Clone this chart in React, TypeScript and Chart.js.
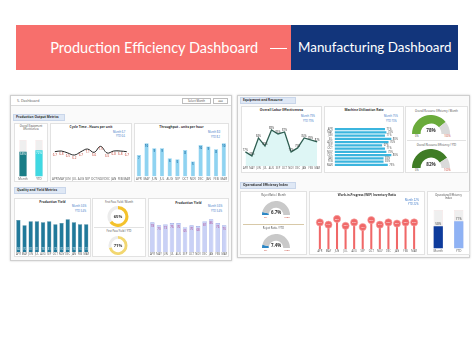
import React, { useEffect, useRef } from 'react';
import { Chart, registerables } from 'chart.js';
Chart.register(...registerables);

// ---------- data ----------
const months = ['APR', 'MAY', 'JUN', 'JUL', 'AUG', 'SEP', 'OCT', 'NOV', 'DEC', 'JAN', 'FEB', 'MAR'];
const periodLabels = ['Month', 'YTD'];
const oeeValues = [68, 72];
const cycleTime = [6.7, 6.8, 6.5, 6.2, 6.7, 7.1, 6.6, 7.5, 6.5, 6.8, 6.8, 6.7];
const throughput = [6.5, 10, 8.5, 8.5, 5.5, 5.2, 8, 4.5, 9.5, 9, 8.2, 10];
const yieldTeal = [84, 70, 81, 81, 78, 81, 73, 76, 86, 78, 73, 73];
const fpyMonth = 65;
const fpyYtd = 71;
const yieldLavender = [78, 70, 73, 76, 76, 65, 70, 68, 81, 86, 76, 70];
const laborEff = [77, 75, 84, 80, 88, 86, 87, 77, 79, 84, 83, 82];
const machineUtil = [71, 73, 71, 80, 76, 67, 71, 73, 80, 69, 69, 75];
const resMonth = 78;
const resYtd = 82;
const rejectMonth = 6.7;
const rejectYtd = 7.4;
const wipRatio = [23, 21, 26, 20, 23, 19, 25, 21, 23, 22, 23, 23];
const opIndex = [58, 71];
const fullScale = [100, 100];

const FONT = '"Open Sans", "Noto Sans", sans-serif';

type LabelSpec = {
  ds: number;
  fmt: (v: number) => string;
  color: string;
  size: number;
  pos: 'above' | 'below' | 'insideTop' | 'insideBottom' | 'middle' | 'right' | 'center';
  bold?: boolean;
  off?: number;
};

function valueLabels(specs: LabelSpec[]) {
  return {
    id: 'vlabels',
    afterDatasetsDraw(chart: any) {
      const ctx = chart.ctx;
      specs.forEach((s) => {
        const meta = chart.getDatasetMeta(s.ds);
        const data = chart.data.datasets[s.ds].data;
        meta.data.forEach((el: any, i: number) => {
          const p = el.getProps(['x', 'y', 'base'], true);
          const v = data[i] as number;
          ctx.save();
          ctx.font = `${s.bold ? 'bold ' : ''}${s.size}px ${FONT}`;
          ctx.fillStyle = s.color;
          ctx.textAlign = 'center';
          ctx.textBaseline = 'middle';
          let x = p.x;
          let y = p.y;
          const o = s.off ?? 0;
          if (s.pos === 'above') y = p.y - s.size * 0.8 - o;
          else if (s.pos === 'below') y = p.y + s.size * 0.9 + o;
          else if (s.pos === 'insideTop') y = p.y + s.size * 0.8 + o;
          else if (s.pos === 'insideBottom') y = p.base - s.size * 0.8 - o;
          else if (s.pos === 'middle') y = (p.y + p.base) / 2 + o;
          else if (s.pos === 'right') {
            ctx.textAlign = 'left';
            x = p.x + 1.5 + o;
          }
          ctx.fillText(s.fmt(v), x, y);
          ctx.restore();
        });
      });
    },
  };
}

const noLegend = { legend: { display: false }, tooltip: { enabled: false }, title: { display: false } };
const monthAxis = (size = 3) => ({
  grid: { display: false, drawTicks: false },
  border: { display: false },
  ticks: { font: { size, family: FONT }, color: '#555', padding: 1, maxRotation: 0, autoSkip: false },
});
const hiddenAxis = (min: number, max: number) => ({ display: false, min, max });

function ChartBox({ x, y, w, h, config }: { x: number; y: number; w: number; h: number; config: () => any }) {
  const ref = useRef<HTMLCanvasElement>(null);
  useEffect(() => {
    const c = new Chart(ref.current as HTMLCanvasElement, config());
    return () => c.destroy();
  }, []);
  return <canvas ref={ref} width={w} height={h} style={{ position: 'absolute', left: x, top: y, width: w, height: h }} />;
}

function T({ x, y, s, c = '#333', b = false, w, align = 'left', children }: any) {
  return (
    <div
      style={{
        position: 'absolute',
        left: x,
        top: y,
        width: w,
        fontSize: s,
        lineHeight: 1.1,
        color: c,
        fontWeight: b ? 700 : 400,
        textAlign: align,
        whiteSpace: 'pre',
        fontFamily: FONT,
      }}
    >
      {children}
    </div>
  );
}

function Box({ x, y, w, h, bg = '#fff', bc = '#e2e2e2' }: any) {
  return <div style={{ position: 'absolute', left: x, top: y, width: w, height: h, background: bg, border: `1px solid ${bc}`, boxSizing: 'border-box' }} />;
}

function Tag({ x, y, w, text }: any) {
  return (
    <div
      style={{
        position: 'absolute', left: x, top: y, width: w, height: 7, background: '#dfe8f5', border: '1px solid #c9d6ea',
        boxSizing: 'border-box', fontSize: 3.2, fontWeight: 700, color: '#333', fontFamily: FONT, lineHeight: '5px', paddingLeft: 2,
        whiteSpace: 'nowrap',
      }}
    >
      {text}
    </div>
  );
}

// ---------- chart configs ----------
const periodBars = (values: number[], colors: string[], labelPos: 'insideTop' | 'above') => () => ({
  type: 'bar',
  data: {
    labels: periodLabels,
    datasets: [
      { data: values, backgroundColor: colors, order: 1, grouped: false, barPercentage: 0.45, categoryPercentage: 1 },
      { data: fullScale, backgroundColor: '#efefef', borderColor: '#f3d6d6', borderWidth: 0.5, order: 2, grouped: false, barPercentage: 0.45, categoryPercentage: 1 },
    ],
  },
  options: {
    responsive: false, animation: false, layout: { padding: 0 }, plugins: noLegend,
    scales: { x: monthAxis(3), y: hiddenAxis(0, 100) },
  },
  plugins: [valueLabels([{ ds: 0, fmt: (v) => `${v}%`, color: labelPos === 'above' ? '#333' : '#fff', size: 3, pos: labelPos, off: labelPos === 'above' ? 0 : 0.5 }])],
});

const cycleConfig = () => ({
  type: 'line',
  data: { labels: months, datasets: [{ data: cycleTime, borderColor: '#222', borderWidth: 1, pointRadius: 0, tension: 0.4 }] },
  options: {
    responsive: false, animation: false, layout: { padding: { left: 2, right: 2 } }, plugins: noLegend,
    scales: { x: monthAxis(3), y: hiddenAxis(3, 8.6) },
  },
  plugins: [valueLabels([{ ds: 0, fmt: (v) => v.toFixed(1), color: '#c0392b', size: 3, pos: 'below', off: 0.5 }])],
});

const throughputConfig = () => ({
  type: 'bar',
  data: { labels: months, datasets: [{ data: throughput, backgroundColor: '#8fd3f1', borderColor: '#6cc0e6', borderWidth: 0.4, barPercentage: 0.6, categoryPercentage: 0.9 }] },
  options: {
    responsive: false, animation: false, layout: { padding: 0 }, plugins: noLegend,
    scales: { x: monthAxis(3), y: hiddenAxis(0, 11) },
  },
  plugins: [valueLabels([{ ds: 0, fmt: (v) => `${Math.round(v)}`, color: '#2f7fb0', size: 3, pos: 'insideTop', off: 0.5, bold: true }])],
});

const yieldTealConfig = () => ({
  type: 'bar',
  data: { labels: months, datasets: [{ data: yieldTeal, backgroundColor: '#21799a', borderColor: '#1b6684', borderWidth: 0.4, barPercentage: 0.72, categoryPercentage: 0.95 }] },
  options: {
    responsive: false, animation: false, layout: { padding: 0 }, plugins: noLegend,
    scales: { x: monthAxis(2.6), y: hiddenAxis(0, 100) },
  },
  plugins: [valueLabels([{ ds: 0, fmt: (v) => `${v}`, color: '#e6f4fa', size: 2.6, pos: 'insideBottom', off: 0.5 }])],
});

const yieldLavConfig = () => ({
  type: 'bar',
  data: { labels: months, datasets: [{ data: yieldLavender, backgroundColor: '#c9d1f6', borderColor: '#98a6e6', borderWidth: 0.6, barPercentage: 0.72, categoryPercentage: 0.95 }] },
  options: {
    responsive: false, animation: false, layout: { padding: 0 }, plugins: noLegend,
    scales: { x: monthAxis(2.6), y: hiddenAxis(0, 100) },
  },
  plugins: [valueLabels([{ ds: 0, fmt: (v) => `${v}`, color: '#b0408a', size: 2.8, pos: 'insideTop', off: 2 }])],
});

const centerText = (text: string, size: number, color: string, dy = 0) => ({
  id: 'ctext',
  afterDraw(chart: any) {
    const meta = chart.getDatasetMeta(0);
    const arc = meta.data[0];
    if (!arc) return;
    const ctx = chart.ctx;
    ctx.save();
    ctx.font = `bold ${size}px ${FONT}`;
    ctx.fillStyle = color;
    ctx.textAlign = 'center';
    ctx.textBaseline = 'middle';
    ctx.fillText(text, arc.x, arc.y + dy);
    ctx.restore();
  },
});

const ringConfig = (value: number, color: string) => () => ({
  type: 'doughnut',
  data: { labels: ['value', 'rest'], datasets: [{ data: [value, 100 - value], backgroundColor: [color, '#ececec'], borderWidth: 0 }] },
  options: { responsive: false, animation: false, cutout: '70%', plugins: noLegend, layout: { padding: 0 } },
  plugins: [centerText(`${value}%`, 4.2, '#333')],
});

const gaugeConfig = (value: number, color: string, rest: string, cut: string, text: string, size: number, dy: number) => () => ({
  type: 'doughnut',
  data: { labels: ['value', 'rest'], datasets: [{ data: [value, 100 - value], backgroundColor: [color, rest], borderWidth: 0 }] },
  options: { responsive: false, animation: false, rotation: -90, circumference: 180, cutout: cut, plugins: noLegend, layout: { padding: 0 } },
  plugins: [centerText(text, size, '#333', dy)],
});

const laborConfig = () => ({
  type: 'line',
  data: {
    labels: months,
    datasets: [{ data: laborEff, borderColor: '#2f5f52', borderWidth: 1.3, pointRadius: 0, tension: 0, fill: 'start', backgroundColor: '#def6f5' }],
  },
  options: {
    responsive: false, animation: false, layout: { padding: { left: 2, right: 3 } }, plugins: { ...noLegend, filler: { propagate: false } },
    scales: { x: monthAxis(2.6), y: hiddenAxis(70, 92) },
  },
  plugins: [valueLabels([{ ds: 0, fmt: (v) => `${v}%`, color: '#333', size: 2.6, pos: 'above', off: 0 }])],
});

const machineConfig = () => ({
  type: 'bar',
  data: { labels: months, datasets: [{ data: machineUtil, backgroundColor: '#3bb5de', barPercentage: 0.7, categoryPercentage: 1 }] },
  options: {
    indexAxis: 'y', responsive: false, animation: false, layout: { padding: 0 }, plugins: noLegend,
    scales: {
      y: { grid: { display: false, drawTicks: false }, border: { display: false }, ticks: { font: { size: 2.6, family: FONT }, color: '#555', padding: 2, autoSkip: false } },
      x: hiddenAxis(0, 95),
    },
  },
  plugins: [valueLabels([{ ds: 0, fmt: (v) => `${v}%`, color: '#444', size: 2.6, pos: 'right' }])],
});

const wipConfig = () => ({
  type: 'bar',
  data: {
    labels: months,
    datasets: [
      { type: 'line', data: wipRatio, showLine: false, pointRadius: 3.6, pointBackgroundColor: '#f06868', pointBorderColor: '#f7a5a5', pointBorderWidth: 0.6, order: 1 },
      { type: 'bar', data: wipRatio, backgroundColor: '#f06868', barThickness: 1.4, order: 2 },
    ],
  },
  options: {
    responsive: false, animation: false, layout: { padding: { top: 4, left: 2, right: 2 } }, plugins: noLegend,
    scales: { x: { ...monthAxis(2.6), offset: true }, y: hiddenAxis(0, 35) },
  },
  plugins: [valueLabels([{ ds: 0, fmt: (v) => `${v}%`, color: '#fff', size: 2.2, pos: 'center' }])],
});

export default function App() {
  return (
    <div style={{ position: 'fixed', left: 0, top: 0, width: 474, height: 355, background: '#fff', overflow: 'hidden', fontFamily: FONT }}>
      {/* banner */}
      <div style={{ position: 'absolute', left: 16, top: 25, width: 275, height: 45, background: '#f76f6c' }} />
      <div style={{ position: 'absolute', left: 291, top: 25, width: 167, height: 45, background: '#12357b' }} />
      <div style={{ position: 'absolute', left: 16, top: 25, width: 242, height: 45, lineHeight: '45px', textAlign: 'right', color: '#fff', fontSize: 14.5, fontFamily: 'Lato, "Open Sans", sans-serif', whiteSpace: 'nowrap' }}>
        Production Efficiency Dashboard
      </div>
      <div style={{ position: 'absolute', left: 270, top: 48, width: 17, height: 1, background: '#fff' }} />
      <div style={{ position: 'absolute', left: 298, top: 25, width: 156, height: 45, lineHeight: '45px', color: '#fff', fontSize: 13.4, fontFamily: 'Lato, "Open Sans", sans-serif', whiteSpace: 'nowrap' }}>
        Manufacturing Dashboard
      </div>

      {/* left panel */}
      <div style={{ position: 'absolute', left: 10, top: 95, width: 222, height: 166, background: '#fafafa', border: '1px solid #cfcfcf', boxSizing: 'border-box', boxShadow: '0 0 2px rgba(0,0,0,0.2)' }} />
      <div style={{ position: 'absolute', left: 11, top: 96, width: 220, height: 10, background: '#fff', borderBottom: '1px solid #dcdcdc', boxSizing: 'border-box' }} />
      <T x={17} y={99} s={3.6} c="#555">5. Dashboard</T>
      <div style={{ position: 'absolute', left: 182, top: 98, width: 29, height: 6, border: '1px solid #bdbdbd', boxSizing: 'border-box', fontSize: 2.8, lineHeight: '4px', textAlign: 'center', color: '#444', fontFamily: FONT, background: '#fff' }}>Select Month</div>
      <div style={{ position: 'absolute', left: 213, top: 98, width: 15, height: 6, border: '1px solid #bdbdbd', boxSizing: 'border-box', fontSize: 2.8, lineHeight: '4px', textAlign: 'center', color: '#444', fontFamily: FONT, background: '#fff' }}>aaa</div>

      <Tag x={13} y={114} w={52} text="Production Output Metrics" />
      <Box x={14} y={123} w={34} h={59} />
      <Box x={50} y={123} w={82} h={59} />
      <Box x={134} y={123} w={95} h={59} />
      <T x={14} y={125} w={34} s={2.6} align="center" c="#444">{'Overall Equipment\nEffectiveness'}</T>
      <T x={50} y={126} w={82} s={3.2} align="center" b>Cycle Time - Hours per unit</T>
      <T x={113} y={130.5} s={2.6} c="#2f6fc4">Month 6.7</T>
      <T x={116} y={135} s={2.6} c="#2f6fc4">YTD 6.6</T>
      <T x={134} y={126} w={95} s={3.2} align="center" b>Throughput - units per hour</T>
      <T x={208} y={131} s={2.6} c="#2f6fc4">Month 8.0</T>
      <T x={211} y={135.5} s={2.6} c="#2f6fc4">YTD 8.2</T>
      <ChartBox x={15} y={140} w={32} h={42} config={periodBars(oeeValues, ['#197d86', '#3fd8e2'], 'insideTop')} />
      <ChartBox x={51} y={139} w={80} h={43} config={cycleConfig} />
      <ChartBox x={135} y={140} w={93} h={42} config={throughputConfig} />

      <Tag x={14} y={187} w={52} text="Quality and Yield Metrics" />
      <Box x={14} y={198} w={77} h={59} />
      <Box x={92} y={198} w={54} h={59} />
      <div style={{ position: 'absolute', left: 94, top: 227, width: 50, height: 1, background: '#e2e2e2' }} />
      <Box x={148} y={198} w={81} h={59} />
      <T x={14} y={201} w={77} s={3.2} align="center" b>Production Yield</T>
      <T x={72} y={204.5} s={2.6} c="#2f6fc4">Month 3.6%</T>
      <T x={75} y={209.5} s={2.6} c="#2f6fc4">YTD 3.4%</T>
      <T x={92} y={201} w={54} s={2.6} align="center" c="#444">First Pass Yield / Month</T>
      <T x={92} y={230} w={54} s={2.6} align="center" c="#444">First Pass Yield / YTD</T>
      <T x={148} y={201.5} w={81} s={3.2} align="center" b>Production Yield</T>
      <T x={208} y={205} s={2.6} c="#2f6fc4">Month 3.6%</T>
      <T x={211} y={210} s={2.6} c="#2f6fc4">YTD 3.4%</T>
      <ChartBox x={15} y={214} w={75} h={43} config={yieldTealConfig} />
      <ChartBox x={107} y={206} w={22} h={21} config={ringConfig(fpyMonth, '#f4c22c')} />
      <ChartBox x={108} y={235.5} w={20} h={19} config={ringConfig(fpyYtd, '#f2d771')} />
      <ChartBox x={149} y={214} w={79} h={43} config={yieldLavConfig} />

      {/* right panel */}
      <div style={{ position: 'absolute', left: 237, top: 95, width: 233, height: 163, background: '#fafafa', border: '1px solid #cfcfcf', boxSizing: 'border-box', boxShadow: '0 0 2px rgba(0,0,0,0.2)' }} />
      <Tag x={240} y={97} w={56} text="Equipment and Resource" />
      <Box x={241} y={106} w={81} h={67} />
      <Box x={324} y={106} w={80} h={67} />
      <Box x={405} y={106} w={63} h={67} />
      <div style={{ position: 'absolute', left: 407, top: 140, width: 59, height: 1, background: '#e2e2e2' }} />
      <T x={241} y={109} w={81} s={3.2} align="center" b>Overall Labor Effectiveness</T>
      <T x={301} y={115} s={2.6} c="#2f6fc4">Month 79%</T>
      <T x={303} y={119.5} s={2.6} c="#2f6fc4">YTD 79%</T>
      <T x={324} y={109} w={80} s={3.2} align="center" b>Machine Utilization Rate</T>
      <T x={384} y={115} s={2.6} c="#2f6fc4">Month 75%</T>
      <T x={386} y={119.5} s={2.6} c="#2f6fc4">YTD 73%</T>
      <T x={405} y={110} w={63} s={2.6} align="center" c="#444">Overall Resource Efficiency / Month</T>
      <T x={405} y={144} w={63} s={2.6} align="center" c="#444">Overall Resource Efficiency / YTD</T>
      <ChartBox x={242} y={122} w={79} h={49} config={laborConfig} />
      <ChartBox x={325} y={124} w={77} h={46} config={machineConfig} />
      <ChartBox x={412} y={115} w={38} h={19} config={gaugeConfig(resMonth, '#6aab3b', '#dadada', '55%', `${resMonth}%`, 4.6, -3)} />
      <T x={415} y={134.5} s={2.6} c="#444">0%</T>
      <T x={444} y={134.5} s={2.6} c="#c0392b">100%</T>
      <ChartBox x={412} y={149} w={38} h={19} config={gaugeConfig(resYtd, '#3f7c25', '#dadada', '55%', `${resYtd}%`, 4.6, -3)} />
      <T x={415} y={168.5} s={2.6} c="#444">0%</T>
      <T x={444} y={168.5} s={2.6} c="#c0392b">100%</T>

      <Tag x={240} y={182} w={56} text="Operational Efficiency Index" />
      <Box x={240} y={191} w={67} h={64} />
      <div style={{ position: 'absolute', left: 243, top: 224, width: 61, height: 1, background: '#d8c9a8' }} />
      <Box x={309} y={191} w={116} h={64} />
      <Box x={427} y={191} w={43} h={64} />
      <T x={240} y={194} w={67} s={2.6} align="center" c="#444">Reject Ratio / Month</T>
      <T x={240} y={227} w={67} s={2.6} align="center" c="#444">Reject Ratio / YTD</T>
      <ChartBox x={262} y={201} w={28} h={14} config={gaugeConfig(rejectMonth, '#2c86c4', '#c9c9c9', '52%', `${rejectMonth}%`, 4.4, -2.5)} />
      <T x={264} y={216} s={2.4} c="#c0392b">0%</T>
      <T x={284} y={216} s={2.4} c="#c0392b">100%</T>
      <ChartBox x={262} y={234} w={28} h={14} config={gaugeConfig(rejectYtd, '#2c86c4', '#c9c9c9', '52%', `${rejectYtd}%`, 4.4, -2.5)} />
      <T x={264} y={249} s={2.4} c="#c0392b">0%</T>
      <T x={284} y={249} s={2.4} c="#c0392b">100%</T>
      <T x={309} y={194} w={116} s={3} align="center" b>Work-in-Progress (WIP) Inventory Ratio</T>
      <T x={405} y={198.5} s={2.6} c="#2f6fc4">Month 22%</T>
      <T x={408} y={203} s={2.6} c="#2f6fc4">YTD 22%</T>
      <ChartBox x={311} y={204} w={112} h={50} config={wipConfig} />
      <T x={427} y={194} w={43} s={2.6} align="center" c="#444">{'Operational Efficiency\nIndex'}</T>
      <ChartBox x={428} y={210} w={41} h={44} config={periodBars(opIndex, ['#0d3b9c', '#8fb2f4'], 'above')} />
    </div>
  );
}
